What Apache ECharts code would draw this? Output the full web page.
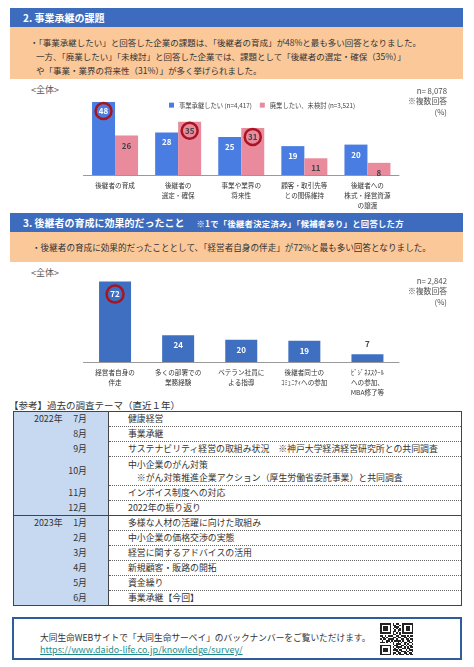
<!DOCTYPE html>
<html><head><meta charset="utf-8">
<script src="https://cdn.jsdelivr.net/npm/echarts@6/dist/echarts.min.js"></script>
<style>
*{box-sizing:border-box;}
body{margin:0;width:474px;height:667px;background:#fff;font-family:"Noto Sans CJK JP","Noto Sans",sans-serif;color:#333;position:relative;overflow:hidden;}
.abs{position:absolute;}
.hdr{left:10px;width:453px;height:19px;background:#3D6CBE;color:#fff;font-weight:bold;font-size:10px;line-height:19px;padding-left:13px;white-space:nowrap;}
.hdr small{font-size:8.3px;margin-left:12px;letter-spacing:0.3px;}
.box{left:10px;width:453px;background:#FBC899;color:#333;white-space:nowrap;}
.sub{font-size:9px;color:#555;}
table{border-collapse:collapse;font-size:8.9px;color:#333;}
td{padding:0;height:15px;line-height:14px;white-space:nowrap;}
td.l{background:#C6D9F1;width:95px;border-right:1px solid #444;}
td.r{padding-left:19px;border-bottom:1px dotted #666;}
.yr{display:inline-block;width:52px;padding-left:20px;}
.mo{display:inline-block;width:21px;text-align:right;}
.qr{display:grid;grid-template-columns:repeat(21,1.6px);grid-auto-rows:1.55px;}
.qr i{display:block;}
</style></head><body>
<div class="abs hdr" style="top:8px;">2. 事業承継の課題</div>
<div class="abs box" style="top:27px;height:52px;padding:8px 0 0 20px;line-height:14px;font-size:8.5px;">
・「事業承継したい」と回答した企業の課題は、「後継者の育成」が48%と最も多い回答となりました。<br>
<span style="padding-left:6px;">一方、「廃業したい」「未検討」と回答した企業では、課題として「後継者の選定・確保（35%）」</span><br>
<span style="padding-left:6px;">や「事業・業界の将来性（31%）」が多く挙げられました。</span>
</div>
<div class="abs sub" style="left:31px;top:83px;">&lt;全体&gt;</div>
<div id="c1" class="abs" style="left:0;top:85px;width:474px;height:125px;"></div>

<div class="abs hdr" style="top:213px;">3. 後継者の育成に効果的だったこと<small>※1で「後継者決定済み」「候補者あり」と回答した方</small></div>
<div class="abs box" style="top:232px;height:30px;padding:0 0 0 22px;line-height:30px;font-size:8.6px;">・後継者の育成に効果的だったこととして、「経営者自身の伴走」が72%と最も多い回答となりました。</div>
<div class="abs sub" style="left:31px;top:266px;">&lt;全体&gt;</div>
<div id="c2" class="abs" style="left:0;top:262px;width:474px;height:135px;"></div>

<div class="abs" style="left:9px;top:398px;font-size:9.5px;color:#333;white-space:nowrap;">【参考】過去の調査テーマ（直近１年）</div>
<table class="abs" id="tbl" style="left:13px;top:411px;width:449px;border:1px solid #444;"></table>

<div class="abs" style="left:12px;top:617px;width:450px;height:43px;border:2px solid #2F5C9F;"></div>
<div class="abs" style="left:40px;top:631px;font-size:8.7px;color:#333;white-space:nowrap;">大同生命WEBサイトで「大同生命サーベイ」のバックナンバーをご覧いただけます。</div>
<div class="abs" style="left:40px;top:643px;font-size:9px;color:#1E8C8C;text-decoration:underline;white-space:nowrap;">https://www.daido-life.co.jp/knowledge/survey/</div>
<div class="abs qr" id="qr" style="left:380px;top:623px;"></div>

<script>
// ---- Chart 1 data ----
const cats1 = ["後継者の育成", "後継者の\n選定・確保", "事業や業界の\n将来性", "顧客・取引先等\nとの関係維持", "後継者への\n株式・経営資源\nの譲渡"];
const seriesName1a = "事業承継したい (n=4,417)";
const seriesName1b = "廃業したい、未検討 (n=3,521)";
const vals1a = [48, 28, 25, 19, 20];
const vals1b = [26, 35, 31, 11, 8];
const circled1a = [0];
const circled1b = [1, 2];
const note1 = ["n= 8,078", "※複数回答", "(%)"];

// ---- Chart 2 data ----
const cats2 = ["経営者自身の\n伴走", "多くの部署での\n業務経験", "ベテラン社員に\nよる指導", "後継者同士の\nｺﾐｭﾆﾃｨへの参加", "ﾋﾞｼﾞﾈｽｽｸｰﾙ\nへの参加、\nMBA修了等"];
const vals2 = [72, 24, 20, 19, 7];
const circled2 = [0];
const note2 = ["n= 2,842", "※複数回答", "(%)"];

// ---- Table data ----
const years = ["2022年", "2023年"];
const months2022 = ["7月", "8月", "9月", "10月", "11月", "12月"];
const themes2022 = ["健康経営", "事業承継", "サステナビリティ経営の取組み状況　※神戸大学経済経営研究所との共同調査", "中小企業のがん対策\n　※がん対策推進企業アクション（厚生労働省委託事業）と共同調査", "インボイス制度への対応", "2022年の振り返り"];
const months2023 = ["1月", "2月", "3月", "4月", "5月", "6月"];
const themes2023 = ["多様な人材の活躍に向けた取組み", "中小企業の価格交渉の実態", "経営に関するアドバイスの活用", "新規顧客・販路の開拓", "資金繰り", "事業承継【今回】"];

const RED = '#A8141F';
function mkData(vals, circled, color, normalDist) {
  return vals.map((v, i) => {
    if (circled.includes(i)) {
      return {value: v, label: {position: 'insideTop', distance: 1, color: color,
        borderColor: RED, borderWidth: 2.5, borderRadius: 11, width: 16, height: 16, lineHeight: 16, align: 'center'}};
    }
    return {value: v, label: {position: 'insideTop', distance: normalDist}};
  });
}
const labelBase = {show: true, fontSize: 8, fontWeight: 'bold', fontFamily: 'Noto Sans CJK JP'};
const axisLabelBase = {fontSize: 6.6, color: '#333', lineHeight: 10, interval: 0, margin: 5, fontFamily: 'Noto Sans CJK JP'};
function noteGraphic(lines, top) {
  return lines.map((t, i) => ({type: 'text', right: 27, top: top + i * 10.5,
    style: {text: t, fill: '#505050', fontSize: 7.8, fontFamily: 'Noto Sans CJK JP'}}));
}

const c1 = echarts.init(document.getElementById('c1'), null, {renderer: 'canvas'});
c1.setOption({
  animation: false,
  legend: {top: 12, left: 164, itemWidth: 5, itemHeight: 5, itemGap: 8, icon: 'rect',
    textStyle: {fontSize: 6.3, color: '#444', fontFamily: 'Noto Sans CJK JP'}},
  graphic: noteGraphic(note1, 2),
  grid: {left: 83.5, width: 315.5, top: 14, bottom: 31},
  xAxis: {type: 'category', data: cats1, axisTick: {show: false},
    axisLine: {lineStyle: {color: '#999', width: 1}}, axisLabel: axisLabelBase},
  yAxis: {type: 'value', min: 0, max: 50, show: false, splitLine: {show: false}},
  series: [
    {name: seriesName1a, type: 'bar', barWidth: 23, barGap: '0%', itemStyle: {color: '#4A7DE2'},
      label: Object.assign({}, labelBase, {color: '#fff'}), data: mkData(vals1a, circled1a, '#fff', 6)},
    {name: seriesName1b, type: 'bar', barWidth: 23, itemStyle: {color: '#E98A9D'},
      label: Object.assign({}, labelBase, {color: '#444'}), data: mkData(vals1b, circled1b, '#444', 6)}
  ]
});

const c2 = echarts.init(document.getElementById('c2'), null, {renderer: 'canvas'});
c2.setOption({
  animation: false,
  graphic: noteGraphic(note2, 15),
  grid: {left: 83.5, width: 315.5, top: 10.6, bottom: 30},
  xAxis: {type: 'category', data: cats2, axisTick: {show: false},
    axisLine: {lineStyle: {color: '#999', width: 1}}, axisLabel: axisLabelBase},
  yAxis: {type: 'value', min: 0, max: 80, show: false, splitLine: {show: false}},
  series: [
    {type: 'bar', barWidth: 32, itemStyle: {color: '#3E6FC1'},
      label: Object.assign({}, labelBase, {color: '#fff'}),
      data: vals2.map((v, i) => {
        if (circled2.includes(i)) {
          return {value: v, label: {position: 'insideTop', distance: 4, color: '#fff',
            borderColor: RED, borderWidth: 2.5, borderRadius: 11, width: 17, height: 17, lineHeight: 17, align: 'center'}};
        }
        if (v < 10) return {value: v, label: {position: 'top', distance: 6, color: '#444'}};
        return {value: v, label: {position: 'insideTop', distance: 6}};
      })}
  ]
});

// ---- table ----
const tbl = document.getElementById('tbl');
function addBlock(year, months, themes, last) {
  months.forEach((m, i) => {
    const tr = document.createElement('tr');
    const lines = themes[i].split('\n');
    const tl = document.createElement('td'); tl.className = 'l';
    tl.innerHTML = '<span class="yr">' + (i === 0 ? year : '') + '</span><span class="mo">' + m + '</span>';
    const tr2 = document.createElement('td'); tr2.className = 'r';
    tr2.innerHTML = lines.join('<br>');
    if (lines.length > 1) { tl.style.height = '29px'; tr2.style.height = '29px'; tr2.style.lineHeight = '13px'; }
    if (i === months.length - 1) tr2.style.borderBottom = last ? 'none' : '1px solid #444';
    if (i === months.length - 1 && !last) tl.style.borderBottom = '1px solid #444';
    tr.appendChild(tl); tr.appendChild(tr2); tbl.appendChild(tr);
  });
}
addBlock(years[0], months2022, themes2022, false);
addBlock(years[1], months2023, themes2023, true);

// ---- QR-like decoration ----
const qrRows = [
"111111101011001111111","100000101100101000001","101110100111001011101","101110101010101011101","101110100101101011101","100000101101001000001","111111101010101111111",
"000000001100100000000","110101110011011101011","011010001101100110100","101101111010011011011","010011010111101001101","111010101001010110110",
"000000001011100101001","111111100110011010110","100000101011110101011","101110100101001101100","101110101110110010111","101110100011011101001","100000101101100110110","111111101010111011011"];
const qr = document.getElementById('qr');
qrRows.forEach(r => { for (const ch of r) { const d = document.createElement('i'); d.style.background = ch === '1' ? '#222' : '#fff'; qr.appendChild(d); } });
</script>
</body></html>
